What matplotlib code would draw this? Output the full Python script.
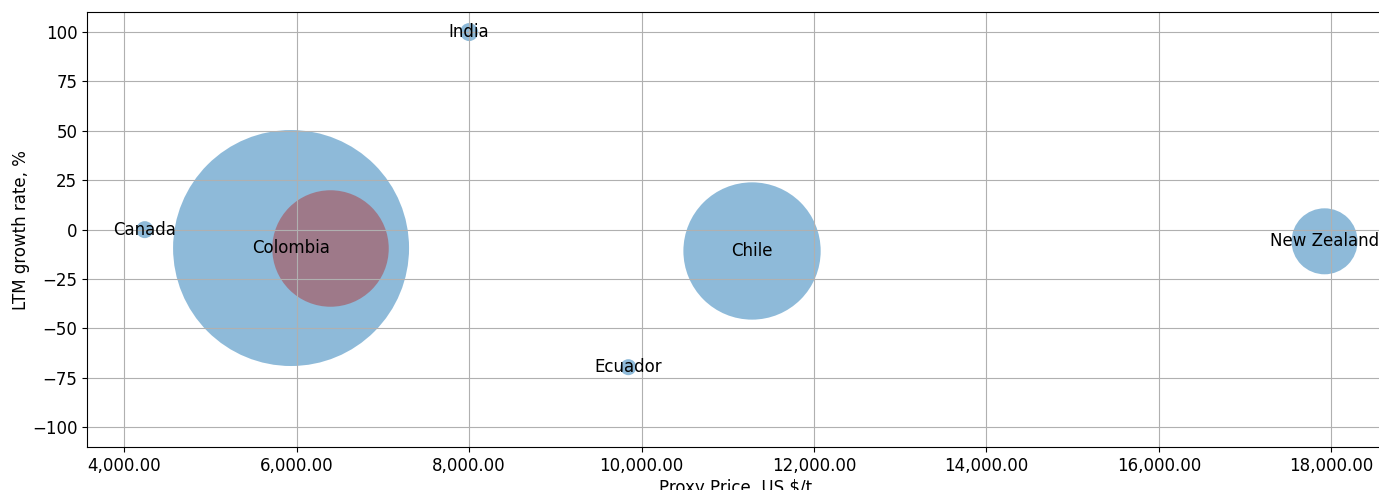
import matplotlib
matplotlib.use("Agg")
import matplotlib.pyplot as plt
from matplotlib.ticker import FuncFormatter

countries = ["Canada", "India", "Colombia", "Chile", "Ecuador", "New Zealand"]
prices = [4237, 8000, 5934, 11281, 9846, 17922]
growth = [0.0, 100.0, -9.3, -10.8, -69.6, -5.9]
sizes = [150, 168, 28870, 9772, 133, 2258]

highlight_price = [6383]
highlight_growth = [-9.3]
highlight_size = [7035]

fig = plt.figure(figsize=(13.79, 4.9), dpi=100)
ax = fig.add_axes([87 / 1379, 43 / 490, (1385 - 87) / 1379, (447 - 12.3) / 490])

ax.scatter(prices, growth, s=sizes, color="tab:blue", alpha=0.5, linewidths=0)
ax.scatter(highlight_price, highlight_growth, s=highlight_size, color="#af393b",
           alpha=0.5, linewidths=0)

for name, x, y in zip(countries, prices, growth):
    ax.text(x, y, name, ha="center", va="center", fontsize=12)

ax.set_xlim(3567, 18623)
ax.set_ylim(-110, 110)
ax.set_xticks([4000, 6000, 8000, 10000, 12000, 14000, 16000, 18000])
ax.set_yticks([-100, -75, -50, -25, 0, 25, 50, 75, 100])
ax.xaxis.set_major_formatter(FuncFormatter(lambda v, p: f"{v:,.2f}"))
ax.tick_params(labelsize=12)
ax.grid(True)
ax.set_xlabel("Proxy Price, US $/t", fontsize=12, labelpad=3)
ax.set_ylabel("LTM growth rate, %", fontsize=12, labelpad=1.5)

fig.savefig("out.png", dpi=100)
